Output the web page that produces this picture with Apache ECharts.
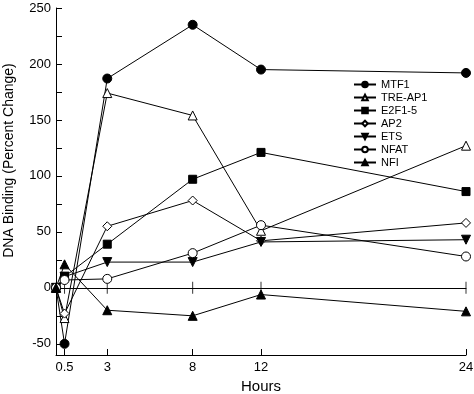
<!DOCTYPE html>
<html><head><meta charset="utf-8">
<script src="https://cdn.jsdelivr.net/npm/echarts@6/dist/echarts.min.js"></script>
<style>html,body{margin:0;padding:0;background:#fff}#c{width:474px;height:394px}</style>
</head><body><div id="c"></div>
<script>
var hours = [0, 0.5, 3, 8, 12, 24];
var xTickLabels = [0.5, 3, 8, 12, 24];
var yTicks = [-50, -25, 0, 25, 50, 75, 100, 125, 150, 175, 200, 225, 250];
var yLabels = [-50, 0, 50, 100, 150, 200, 250];
var MTF1 = [0, -50, 187, 235, 195, 192];
var TRE_AP1 = [0, -27, 174, 154, 51, 127];
var E2F1_5 = [0, 10, 39, 97, 121, 86];
var AP2 = [0, -23, 55, 78, 42, 58];
var ETS = [0, 10, 23, 23, 41, 43];
var NFAT = [0, 7, 8, 31, 56, 28];
var NFI = [0, 21, -20, -25, -6, -21];

var names = ['MTF1', 'TRE-AP1', 'E2F1-5', 'AP2', 'ETS', 'NFAT', 'NFI'];
var values = [MTF1, TRE_AP1, E2F1_5, AP2, ETS, NFAT, NFI];
var symbols = ['circle', 'triangle', 'rect', 'diamond', 'triangle', 'circle', 'triangle'];
var filled = [true, false, true, false, true, false, true];
var rot = [0, 0, 0, 0, 180, 0, 0];
var sizes = [9, 9, 8, 9, 9, 9, 9];

function pairs(v) { return hours.map(function (h, i) { return [h, v[i]]; }); }

// tick marks crossing the zero line, placed via the x scale
var zeroTicks = {
  type: 'scatter', name: 'zeroTicks', xAxisIndex: 0,
  data: xTickLabels.map(function (h) { return [h, 0]; }),
  symbol: 'rect', symbolSize: [1, 12],
  itemStyle: { color: '#000' }, silent: true, z: 1, animation: false
};

var series = names.map(function (n, k) {
  return {
    name: n, type: 'line', data: pairs(values[k]),
    symbol: symbols[k], symbolSize: sizes[k], symbolRotate: rot[k],
    xAxisIndex: 0, z: 3,
    lineStyle: { color: '#000', width: 1 },
    itemStyle: { color: filled[k] ? '#000' : '#fff', borderColor: '#000', borderWidth: 1 },
    emphasis: { disabled: true },
    animation: false
  };
});
series.unshift(zeroTicks);

var font = 'Liberation Sans, Arial, sans-serif';

var chart = echarts.init(document.getElementById('c'));
chart.setOption({
  animation: false,
  grid: { left: 56, right: 8, top: 8, bottom: 39, containLabel: false, outerBoundsMode: 'none' },
  legend: {
    orient: 'vertical', left: 353, top: 79, padding: 0, itemWidth: 22, itemHeight: 7, itemGap: 2,
    textStyle: { fontFamily: font, fontSize: 11, lineHeight: 11, color: '#000' },
    data: names
  },
  xAxis: [
    {
      type: 'value', min: 0, max: 24, position: 'bottom',
      axisLine: { show: true, onZero: false, lineStyle: { color: '#000', width: 1 } },
      axisTick: { show: true, inside: true, length: 6, customValues: xTickLabels, lineStyle: { color: '#000' } },
      axisLabel: { show: true, customValues: xTickLabels, color: '#000', fontFamily: font, fontSize: 13, margin: 6 },
      splitLine: { show: false },
      name: 'Hours', nameLocation: 'middle', nameGap: 23,
      nameTextStyle: { color: '#000', fontFamily: font, fontSize: 15 }
    },
    {
      type: 'value', min: 0, max: 24, position: 'bottom',
      axisLine: { show: true, onZero: true, onZeroAxisIndex: 0, lineStyle: { color: '#000', width: 1 } },
      axisTick: { show: false }, axisLabel: { show: false }, splitLine: { show: false }
    }
  ],
  yAxis: {
    type: 'value', min: -60, max: 250,
    axisLine: { show: true, onZero: false, lineStyle: { color: '#000', width: 1 } },
    axisTick: { show: true, inside: true, length: 6, customValues: yTicks, lineStyle: { color: '#000' } },
    axisLabel: { customValues: yLabels, color: '#000', fontFamily: font, fontSize: 13, margin: 5 },
    splitLine: { show: false },
    name: 'DNA Binding (Percent Change)', nameLocation: 'middle', nameGap: 40, nameRotate: 90,
    nameTextStyle: { color: '#000', fontFamily: font, fontSize: 14, padding: [0, 0, 0, 42] }
  },
  series: series
});
</script></body></html>
